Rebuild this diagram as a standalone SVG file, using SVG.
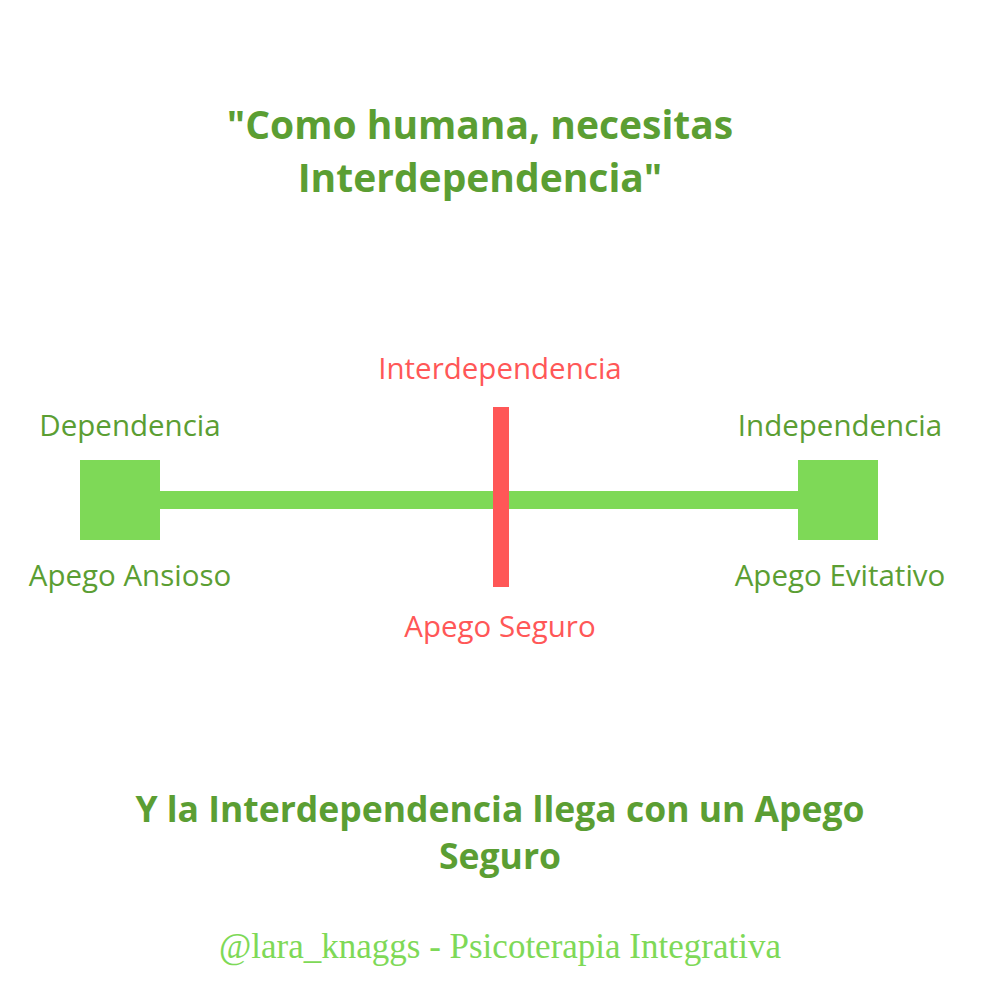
<svg xmlns="http://www.w3.org/2000/svg" width="1000" height="1000" viewBox="0 0 1000 1000">
<style>
.t{font-family:"Open Sans","Liberation Sans",sans-serif;text-anchor:middle}
.h{font-weight:bold;fill:#5b9e33}
.g{fill:#5b9e33;font-size:29.5px}
.r{fill:#ff5757;font-size:29.5px}
</style>
<rect width="1000" height="1000" fill="#fff"/>
<g id="title"><text class="t h" x="480" y="139" font-size="39">"Como humana, necesitas</text><text class="t h" x="480" y="192" font-size="39">Interdependencia"</text></g>
<g id="connectors"><rect x="158" y="491" width="642" height="18" fill="#7ed957"/></g>
<g id="dep"><rect x="80" y="460" width="80" height="80" fill="#7ed957"/><text class="t g" x="130" y="436">Dependencia</text><text class="t g" x="130" y="586">Apego Ansioso</text></g>
<g id="indep"><rect x="798" y="460" width="80" height="80" fill="#7ed957"/><text class="t g" x="840" y="436">Independencia</text><text class="t g" x="840" y="586">Apego Evitativo</text></g>
<g id="inter"><rect x="493" y="407" width="16" height="180" fill="#ff5757"/><text class="t r" x="500" y="379">Interdependencia</text><text class="t r" x="500" y="637">Apego Seguro</text></g>
<g id="bottom"><text class="t h" x="500" y="822" font-size="35.5">Y la Interdependencia llega con un Apego</text><text class="t h" x="500" y="869" font-size="35.5">Seguro</text></g>
<g id="footer"><text x="500" y="958" text-anchor="middle" font-family="Liberation Serif,serif" font-size="35" fill="#7ed957">@lara_knaggs - Psicoterapia Integrativa</text></g>
</svg>
